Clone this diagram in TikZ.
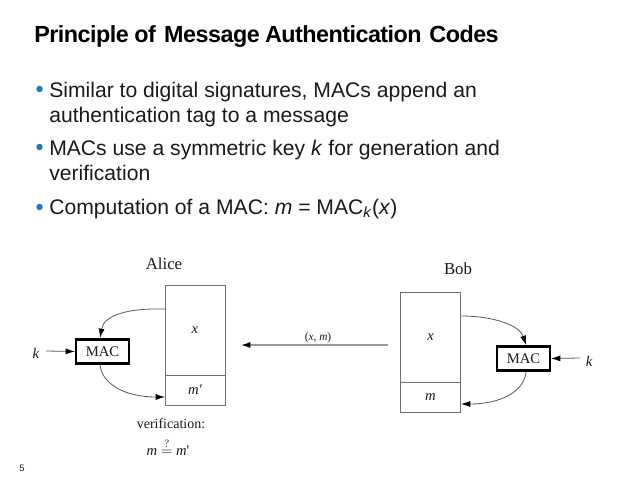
\documentclass[tikz,border=0pt]{standalone}
\usepackage{fontspec}
\setmainfont{Liberation Sans}
\newfontfamily\figfont{Liberation Serif}
\newfontfamily\titlefont[LetterSpace=-2.2]{Liberation Sans Bold}
\usetikzlibrary{arrows.meta}
\definecolor{bul}{HTML}{1F78B4}
\definecolor{ink}{HTML}{1A1A1A}
\definecolor{boxc}{HTML}{707070}
\tikzset{
  x=0.75pt,y=-0.75pt,
  titletext/.style={anchor=base west,inner sep=0pt,font=\titlefont\fontsize{17.5}{20}\selectfont,text=black},
  bodytext/.style={anchor=base west,inner sep=0pt,font=\fontsize{15.85}{18}\selectfont,text=ink},
  bulletdot/.style={circle,fill=bul,inner sep=0pt,minimum size=4.8pt},
  figlabel/.style={inner sep=0pt,font=\figfont\fontsize{10.5}{12}\selectfont,text=ink},
  figitalic/.style={inner sep=0pt,font=\figfont\itshape\fontsize{11}{12}\selectfont,text=ink},
  figname/.style={inner sep=0pt,font=\figfont\fontsize{12.6}{14}\selectfont,text=ink},
  macbox/.style={draw=black,line width=1.7pt,minimum width=39.5pt,minimum height=18pt,inner sep=0pt,font=\figfont\fontsize{11}{13}\selectfont,text=ink},
  membox/.style={draw=boxc,line width=0.7pt,minimum width=45pt,inner sep=0pt,font=\figfont\itshape\fontsize{11}{12}\selectfont,text=ink},
  conn/.style={draw=black!65,line width=0.6pt,-{Latex[black,length=7pt,width=4.5pt]}},
  msg/.style={draw=gray!80,line width=1pt,-{Latex[black,length=7pt,width=4.5pt]}},
}
\begin{document}
\begin{tikzpicture}
\useasboundingbox[fill=white] (0,0) rectangle (638,479);
\node[titletext] (title) at (34,42) {Principle\hspace{4.2pt}of\hspace{6.3pt}Message\hspace{4pt}Authentication\hspace{5.8pt}Codes};
\node[bodytext] (l1) at (49,97) {Similar to digital signatures, MACs append an};
\node[bodytext] (l2) at (49,122) {authentication tag to a message};
\node[bodytext] (l3) at (49,155) {MACs use a symmetric key \textit{k} for generation and};
\node[bodytext] (l4) at (49,180) {verification};
\node[bodytext] (l5) at (49,214) {Computation of a MAC: \textit{m} = MAC\textsubscript{\textit{k}}(\textit{x})};
\node[bulletdot] (b1) at (39.5,89) {};
\node[bulletdot] (b2) at (39.5,147) {};
\node[bulletdot] (b3) at (39.5,207) {};

% Alice
\node[figname] (alice) at (164,264) {Alice};
\node[membox,minimum height=67.5pt] (ax) at (195,330) {x};
\node[membox,minimum height=22.5pt] (am) at (195,390) {m'};
\node[macbox] (amac) at (102.5,351.5) {MAC};
\node[figitalic] (ak) at (36,353) {k};
\node[figlabel] (aver) at (171,424) {verification:};
\node[figlabel,font=\figfont\fontsize{11}{12}\selectfont] (aeq) at (168,447) {\textit{m} $\stackrel{?}{=}$ \textit{m}'};
\coordinate (axout) at (165,309);
\coordinate (amin) at (165,397);
\coordinate (amactop) at (100,338);
\coordinate (amacbot) at (100,365);
\coordinate (akout) at (46,351);
\draw[conn] (axout) .. controls (128,308) and (104,315) .. (amactop);
\draw[conn] (amacbot) .. controls (102,384) and (125,397) .. (amin);
\draw[conn] (akout) -- (amac.west);

% Bob
\node[figname] (bob) at (458,269) {Bob};
\node[membox,minimum height=67.5pt] (bx) at (430.5,337) {x};
\node[membox,minimum height=22.5pt] (bm) at (430.5,397) {m};
\node[macbox] (bmac) at (523.5,358.5) {MAC};
\node[figitalic] (bk) at (589,361) {k};
\coordinate (bxout) at (461,316);
\coordinate (bmin) at (461,404);
\coordinate (bmactop) at (526,345);
\coordinate (bmacbot) at (526,372);
\coordinate (bkout) at (580,358);
\draw[conn] (bxout) .. controls (495,316) and (520,326) .. (bmactop);
\draw[conn] (bmacbot) .. controls (524,392) and (500,404) .. (bmin);
\draw[conn] (bkout) -- (bmac.east);

% message
\coordinate (msgstart) at (388,345);
\coordinate (msgend) at (241,345);
\draw[msg] (msgstart) -- (msgend);
\node[figlabel,font=\figfont\fontsize{8.5}{10}\selectfont] (msglabel) at (318,338) {(\textit{x}, \textit{m})};

\node[inner sep=0pt,font=\fontsize{7}{8}\selectfont,text=ink] (pg) at (22,468) {5};
\end{tikzpicture}
\end{document}
